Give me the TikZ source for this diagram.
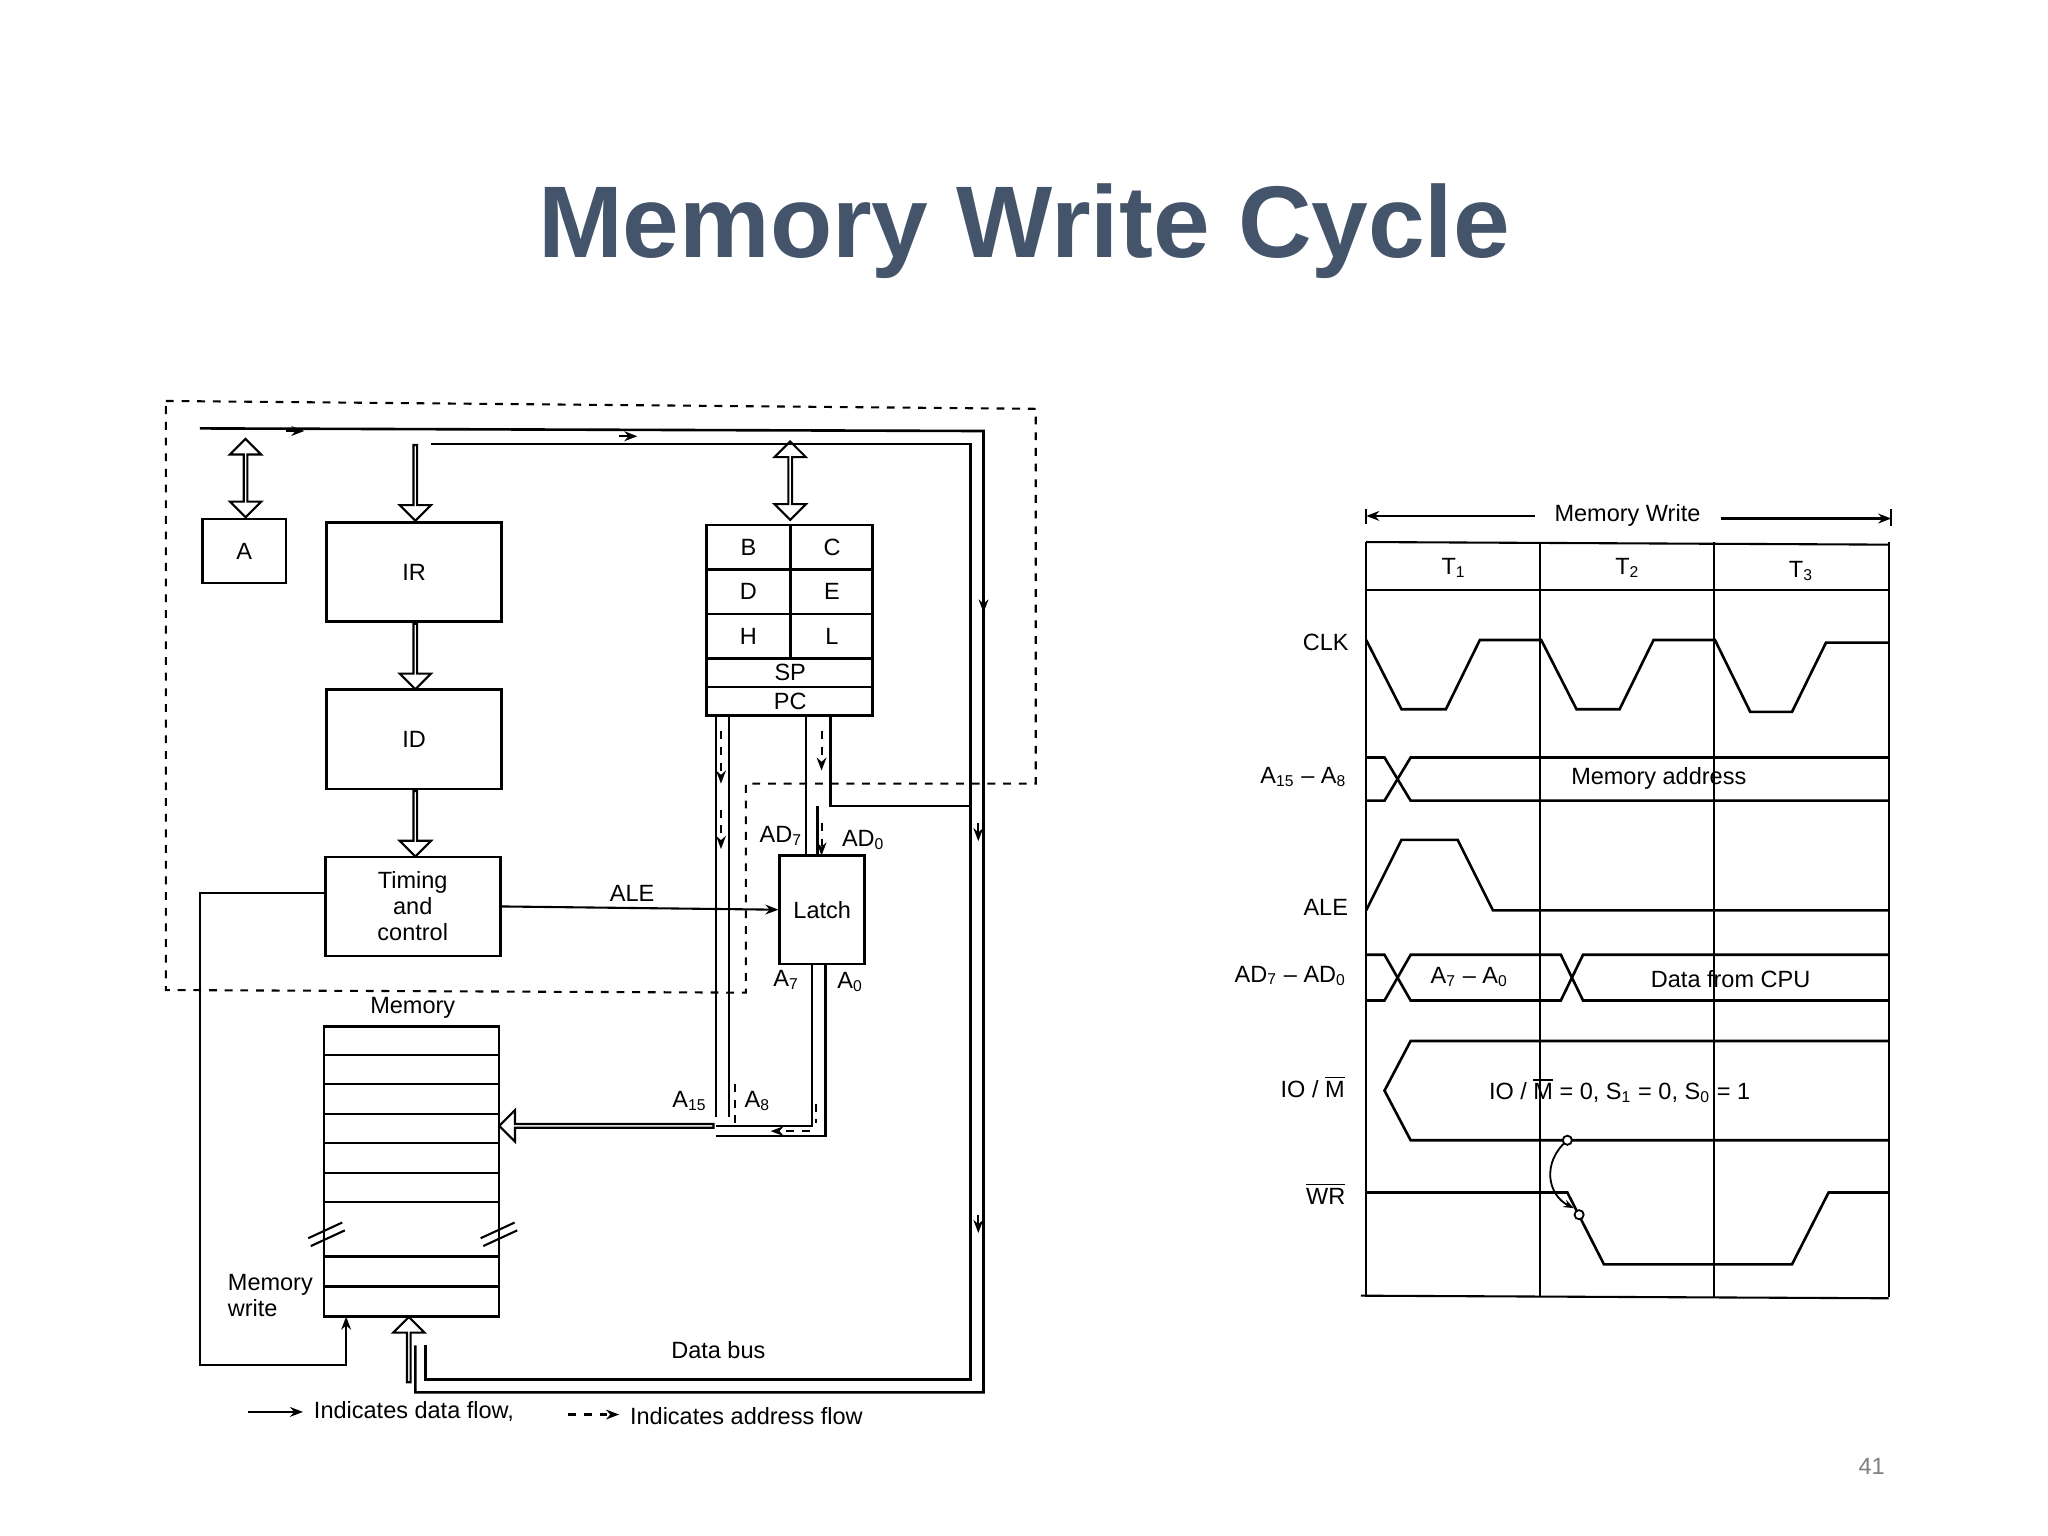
\documentclass[tikz,border=0pt]{standalone}
\usepackage{fontspec}
\setmainfont{Liberation Sans}
\usetikzlibrary{shapes.arrows,arrows.meta}
\definecolor{titlec}{HTML}{44546A}
\newcommand{\sbs}[1]{\textsubscript{#1}}
\newcommand{\ovl}[1]{$\overline{\mbox{#1}}$}
\begin{document}
\begin{tikzpicture}[x=0.5pt,y=-0.5pt,
  bx/.style={draw,line width=1pt},
  lbl/.style={font=\fontsize{9}{10}\selectfont,inner sep=0pt},
  sarr/.style={draw,single arrow,line width=0.8pt,minimum width=12pt,single arrow head extend=3pt,inner sep=0pt,single arrow head indent=0pt},
  darr/.style={draw,double arrow,line width=0.8pt,minimum width=12pt,double arrow head extend=3pt,inner sep=0pt},
  wave/.style={line width=1pt},
  dsh/.style={dashed,line width=0.8pt},
  ar/.style={-{Stealth[length=5pt]}}]
\useasboundingbox (0,0) rectangle (1568,1176);
\node[font=\fontsize{39}{43}\selectfont\bfseries,text=titlec] (title) at (784,177) {Memory Write Cycle};
\node[font=\fontsize{9}{10}\selectfont,text=gray] (pg) at (1433,1123) {41};

% dashed CPU outline
\draw[dsh] (127,307) -- (793,313) -- (793,600) -- (571,600) -- (571,760) -- (127,758) -- cycle;

% boxes
\node[bx,minimum width=32pt,minimum height=24.5pt] (A) at (187,422) {};
\node[lbl] at (187,422) {A};
\node[bx,minimum width=67pt,minimum height=38pt] (IR) at (317,438) {};
\node[lbl] at (IR) {IR};
\node[bx,minimum width=67pt,minimum height=38pt] (ID) at (317,566) {};
\node[lbl] at (ID) {ID};
\node[bx,minimum width=67pt,minimum height=38pt] (TC) at (316,694) {};
\node[lbl,align=center] at (TC) {Timing\\and\\control};
\node[bx,minimum width=32.5pt,minimum height=41.5pt] (L) at (629.5,696.5) {};
\node[lbl] at (L) {Latch};

% register block
\draw[bx] (541,402) rectangle (668,548);
\draw[line width=1pt] (605,402) -- (605,504) (541,436) -- (668,436) (541,470) -- (668,470) (541,504) -- (668,504) (541,526) -- (668,526);
\node[lbl] at (573,419) {B}; \node[lbl] at (637,419) {C};
\node[lbl] at (573,453) {D}; \node[lbl] at (637,453) {E};
\node[lbl] at (573,487) {H}; \node[lbl] at (637,487) {L};
\node[lbl] at (605,515) {SP}; \node[lbl] at (605,537) {PC};

% memory
\node[lbl] (memlbl) at (316,772) {Memory};
\draw[bx] (248,786) -- (248,1008) -- (382,1008) -- (382,786) -- cycle;
\foreach \y in {808,830,853,875,898,920,962,985} \draw[line width=0.8pt] (248,\y) -- (382,\y);
\draw[line width=0.8pt] (236,948) -- (262,936) (238,954) -- (264,942);
\draw[line width=0.8pt] (368,948) -- (394,936) (370,954) -- (396,942);
\node[lbl,align=left] at (207,992) {Memory\\write};
\node[lbl] at (550,1034) {Data bus};

% data bus loop
\draw[line width=1pt] (153,328) -- (753,330) -- (753,1066) -- (318,1066) -- (318,1030);
\draw[line width=1pt] (330,340) -- (743,340) -- (743,1056) -- (326,1056) -- (326,1030);
\draw[line width=1pt] (636,548) -- (636,617) -- (743,617);
\draw[line width=1pt] (626,617) -- (626,655);
\foreach \p in {{(225,330)},{(480,334)}} \draw[ar,line width=0.8pt] \p ++(-6,0) -- ++(14,0);
\foreach \x/\y in {753/455,749/630,749/930} \draw[ar,line width=0.8pt] (\x,\y) -- (\x,\y+14);

% hollow arrows
\node[darr,minimum height=30pt,rotate=90] (aA) at (188,366) {};
\node[sarr,minimum height=29pt,rotate=-90] (aIR) at (318,369) {};
\node[darr,minimum height=30pt,rotate=90] (aR) at (605,368) {};
\node[sarr,minimum height=25pt,rotate=-90] (aID) at (318,502) {};
\node[sarr,minimum height=25pt,rotate=-90] (aTC) at (318,630) {};
\node[sarr,minimum height=25pt,rotate=90] (aM) at (313,1034) {};
\node[sarr,minimum height=82pt,rotate=180] (aAd) at (465,862) {};

% ALE
\draw[ar,line width=0.8pt] (TC.east) -- (L.west);
\node[lbl] at (484,684) {ALE};
% memory write control
\draw[ar,line width=0.8pt] (249,684) -- (153,684) -- (153,1045) -- (265,1045) -- (265,1008);

% address lines
\draw[line width=0.8pt] (548,548) -- (548,855);
\draw[line width=0.8pt] (558,548) -- (558,855);
\draw[ar,dsh] (552,560) -- (552,600);
\draw[ar,dsh] (552,620) -- (552,650);
\draw[line width=0.8pt] (617,548) -- (617,655);
\draw[ar,dsh] (629,560) -- (629,590);
\draw[ar,dsh] (629,630) -- (629,655);
\draw[line width=0.8pt] (622,738) -- (622,862) -- (548,862);
\draw[line width=0.8pt] (632,738) -- (632,870) -- (548,870);
\draw[dsh] (563,830) -- (563,865);
\draw[dsh] (625,845) -- (625,860);
\draw[ar,dsh] (620,866) -- (590,866);
\node[lbl] at (528,843) {A\sbs{15}};
\node[lbl] at (580,843) {A\sbs{8}};
\node[lbl] at (598,640) {AD\sbs{7}};
\node[lbl] at (661,643) {AD\sbs{0}};
\node[lbl] at (602,750) {A\sbs{7}};
\node[lbl] at (651,752) {A\sbs{0}};

% legend
\draw[ar,line width=0.8pt] (190,1081) -- (232,1081);
\node[lbl,anchor=west] at (240,1081) {Indicates data flow,};
\draw[ar,dsh] (435,1083) -- (474,1083);
\node[lbl,anchor=west] at (482,1084) {Indicates address flow};

% ===== timing diagram =====
\draw[line width=0.8pt] (1046,390) -- (1046,401) (1448,390) -- (1448,403);
\draw[ar,line width=0.8pt] (1175,395) -- (1046,395);
\draw[ar,line width=0.8pt] (1318,397) -- (1448,397);
\node[lbl] (mw) at (1246,395) {Memory Write};
\draw[line width=0.8pt] (1046,415) -- (1446,417);
\draw[line width=0.8pt] (1046,452) -- (1446,452);
\foreach \x in {1046,1179,1312,1446} \draw[line width=0.8pt] (\x,415) -- (\x,993);
\draw[line width=0.8pt] (1042,992) -- (1446,994);
\node[lbl] at (1113,435) {T\sbs{1}};
\node[lbl] at (1246,435) {T\sbs{2}};
\node[lbl] at (1379,437) {T\sbs{3}};
% CLK
\node[lbl] at (1015,492) {CLK};
\draw[wave] (1046,490) -- (1073,543) -- (1107,543) -- (1133,490) -- (1180,490) -- (1207,543) -- (1240,543) -- (1266,490) -- (1313,490) -- (1340,545) -- (1372,545) -- (1398,492) -- (1446,492);
% A15-A8
\node[lbl] at (998,595) {A\sbs{15} -- A\sbs{8}};
\draw[wave] (1046,580) -- (1060,580) -- (1080,613) -- (1446,613);
\draw[wave] (1046,613) -- (1060,613) -- (1080,580) -- (1446,580);
\node[lbl] at (1270,596) {Memory address};
% ALE
\node[lbl] at (1015,695) {ALE};
\draw[wave] (1046,697) -- (1073,643) -- (1116,643) -- (1143,697) -- (1446,697);
% AD
\node[lbl] at (988,747) {AD\sbs{7} -- AD\sbs{0}};
\draw[wave] (1046,731) -- (1060,731) -- (1080,766) -- (1195,766) -- (1212,731) -- (1446,731);
\draw[wave] (1046,766) -- (1060,766) -- (1080,731) -- (1195,731) -- (1212,766) -- (1446,766);
\node[lbl] at (1125,748) {A\sbs{7} -- A\sbs{0}};
\node[lbl] at (1325,750) {Data from CPU};
% IO/M
\node[lbl] at (1005,832) {IO / \ovl{M}};
\draw[wave] (1446,797) -- (1080,797) -- (1060,835) -- (1080,873) -- (1446,873);
\node[lbl] at (1240,835) {IO / \ovl{M} = 0, S\sbs{1} = 0, S\sbs{0} = 1};
% WR
\node[lbl] at (1015,914) {\ovl{WR}};
\draw[wave] (1046,913) -- (1200,913) -- (1228,968) -- (1372,968) -- (1400,913) -- (1446,913);
\draw[line width=0.7pt,-{Stealth[length=4pt]}] (1200,873) .. controls (1180,890) and (1185,915) .. (1205,925);
\draw[fill=white,line width=0.7pt] (1200,873) circle (3.5);
\draw[fill=white,line width=0.7pt] (1209,930) circle (3.5);
\end{tikzpicture}
\end{document}
